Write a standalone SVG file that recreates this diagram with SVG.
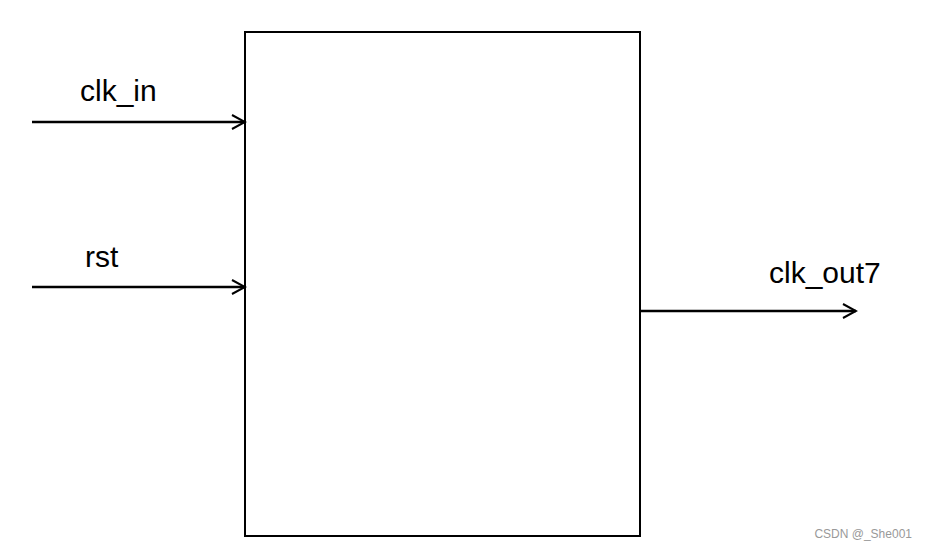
<svg xmlns="http://www.w3.org/2000/svg" width="928" height="550" viewBox="0 0 928 550">
<defs><marker id="a" markerWidth="16" markerHeight="16" refX="14" refY="8" orient="auto" markerUnits="userSpaceOnUse"><path d="M1,1 L14,8 L1,15" fill="none" stroke="#000" stroke-width="2"/></marker>
<style>.l{stroke:#000;stroke-width:2.5;fill:none}.t{font-family:"Liberation Sans",Arial,sans-serif;font-size:30px;fill:#000}</style></defs>
<rect width="928" height="550" fill="#fff"/>
<g id="block"><rect x="245" y="32" width="395" height="504" fill="#fff" stroke="#000" stroke-width="2"/></g>
<g id="connectors">
<line class="l" x1="32" y1="122" x2="245" y2="122" marker-end="url(#a)"/>
<line class="l" x1="32" y1="287" x2="245" y2="287" marker-end="url(#a)"/>
<line class="l" x1="640" y1="311" x2="856" y2="311" marker-end="url(#a)"/>
</g>
<text class="t" x="80" y="101">clk_in</text>
<text class="t" x="85" y="267">rst</text>
<text class="t" x="769" y="283">clk_out7</text>
<text x="912" y="538" text-anchor="end" font-family="Liberation Sans,Arial,sans-serif" font-size="12" fill="#999">CSDN @_She001</text>
</svg>
